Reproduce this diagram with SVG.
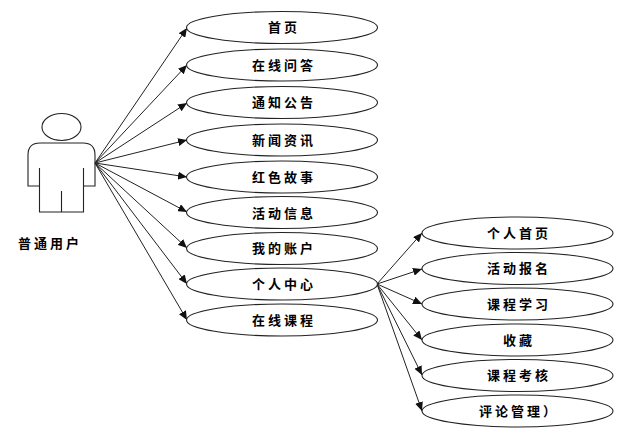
<svg xmlns="http://www.w3.org/2000/svg" width="620" height="438" viewBox="0 0 620 438">
<style>
.s{fill:none;stroke:#222;stroke-width:1.1}
ellipse{fill:#fff;stroke:#222;stroke-width:1.1}
text{font-family:"Noto Sans CJK SC","Liberation Sans",sans-serif;font-size:13px;font-weight:700;letter-spacing:3px;fill:#000;text-anchor:middle;dominant-baseline:central}
#connectors line{stroke:#222;stroke-width:1;marker-end:url(#a)}
</style>
<defs><marker id="a" markerUnits="userSpaceOnUse" markerWidth="10" markerHeight="8" refX="9" refY="4" orient="auto"><path d="M0 0L9 4L0 8z" fill="#111"/></marker></defs>
<rect width="620" height="438" fill="#fff"/>
<g id="connectors">
<line x1="95" y1="163" x2="187" y2="28"/><line x1="95" y1="163" x2="187" y2="65"/><line x1="95" y1="163" x2="187" y2="103"/><line x1="95" y1="163" x2="187" y2="140"/><line x1="95" y1="163" x2="187" y2="177"/><line x1="95" y1="163" x2="187" y2="212"/><line x1="95" y1="163" x2="187" y2="248"/><line x1="95" y1="163" x2="187" y2="284"/><line x1="95" y1="163" x2="187" y2="320"/>
<line x1="377" y1="284" x2="422" y2="233"/><line x1="377" y1="284" x2="422" y2="269"/><line x1="377" y1="284" x2="422" y2="304"/><line x1="377" y1="284" x2="422" y2="340"/><line x1="377" y1="284" x2="422" y2="375"/><line x1="377" y1="284" x2="422" y2="411"/>
</g>
<g id="actor">
<ellipse cx="61.5" cy="127" rx="19.5" ry="13.5"/>
<path class="s" d="M39.5 186H28V155Q28 143 40 143H83Q95 143 95 155V186H83.5"/>
<path class="s" d="M39.5 168V212H83.5V168M61.5 191V212"/>
<text x="50" y="242">普通用户</text>
</g>
<g id="n1"><ellipse cx="282" cy="27.5" rx="95.5" ry="16"/><text x="284" y="26">首页</text></g>
<g id="n2"><ellipse cx="282" cy="65" rx="95.5" ry="16"/><text x="284" y="64">在线问答</text></g>
<g id="n3"><ellipse cx="282" cy="102.500" rx="95.5" ry="16"/><text x="284" y="101">通知公告</text></g>
<g id="n4"><ellipse cx="282" cy="140" rx="95.5" ry="16"/><text x="284" y="139">新闻资讯</text></g>
<g id="n5"><ellipse cx="282" cy="177" rx="95.5" ry="16"/><text x="284" y="176">红色故事</text></g>
<g id="n6"><ellipse cx="282" cy="212.500" rx="95.5" ry="16"/><text x="284" y="212">活动信息</text></g>
<g id="n7"><ellipse cx="282" cy="248.500" rx="95.5" ry="16"/><text x="284" y="247">我的账户</text></g>
<g id="n8"><ellipse cx="282" cy="284" rx="95.5" ry="16"/><text x="284" y="283">个人中心</text></g>
<g id="n9"><ellipse cx="282" cy="320" rx="95.5" ry="16"/><text x="284" y="319">在线课程</text></g>
<g id="m1"><ellipse cx="517.500" cy="233" rx="95.5" ry="16"/><text x="519" y="232">个人首页</text></g>
<g id="m2"><ellipse cx="517.500" cy="268.500" rx="95.5" ry="16"/><text x="519" y="267">活动报名</text></g>
<g id="m3"><ellipse cx="517.500" cy="304" rx="95.5" ry="16"/><text x="519" y="303">课程学习</text></g>
<g id="m4"><ellipse cx="517.500" cy="340" rx="95.5" ry="16"/><text x="519" y="339">收藏</text></g>
<g id="m5"><ellipse cx="517.500" cy="375.500" rx="95.5" ry="16"/><text x="519" y="374">课程考核</text></g>
<g id="m6"><ellipse cx="517.500" cy="411" rx="95.5" ry="16"/><text x="519" y="410">评论管理）</text></g>
</svg>
